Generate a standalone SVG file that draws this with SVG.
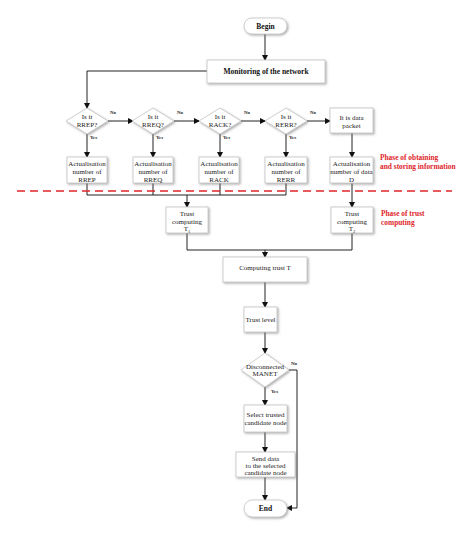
<svg xmlns="http://www.w3.org/2000/svg" width="474" height="533" viewBox="0 0 474 533">
<style>
.box{fill:#fff;stroke:#c4c4c4;stroke-width:0.8;filter:url(#sh)}
.ln{fill:none;stroke:#222;stroke-width:1}
.ar{fill:none;stroke:#222;stroke-width:1;marker-end:url(#ah)}
.t{font-family:"Liberation Serif",serif;font-size:7px;fill:#222;text-anchor:middle}
.tb{font-family:"Liberation Serif",serif;font-size:7.5px;font-weight:bold;fill:#111;text-anchor:middle}
.lb{font-family:"Liberation Serif",serif;font-size:5px;font-weight:bold;fill:#222}
.red{font-family:"Liberation Serif",serif;font-size:7.4px;font-weight:bold;fill:#e0262b}
.dash{stroke:#e0262b;stroke-width:1.3;stroke-dasharray:8,5;fill:none}
</style>
<defs>
<filter id="sh" x="-20%" y="-20%" width="140%" height="150%">
<feDropShadow dx="1.2" dy="1.2" stdDeviation="0.8" flood-color="#777" flood-opacity="0.6"/>
</filter>
<marker id="ah" markerWidth="6" markerHeight="6" refX="5" refY="3" orient="auto" markerUnits="userSpaceOnUse">
<path d="M0,0 L6,3 L0,6 Z" fill="#111"/>
</marker>
</defs>
<rect width="474" height="533" fill="#fff"/>

<g id="connectors">
<path class="ar" d="M265,34 V60"/>
<path class="ar" d="M207,71 H87 V108"/>
<path class="ar" d="M108,121 H133"/>
<path class="ar" d="M174,121 H199"/>
<path class="ar" d="M241,121 H265"/>
<path class="ar" d="M307,121 H330"/>
<path class="ar" d="M87,134 V157"/>
<path class="ar" d="M153,134 V157"/>
<path class="ar" d="M220,134 V157"/>
<path class="ar" d="M286,134 V157"/>
<path class="ar" d="M352,133 V157"/>
<path class="ln" d="M87,183 V195 H286 V183 M153,183 V195 M220,183 V195"/>
<path class="ar" d="M187,195 V207"/>
<path class="ar" d="M352,183 V207"/>
<path class="ln" d="M187,233 V250 H352 V233"/>
<path class="ar" d="M265,250 V257"/>
<path class="ar" d="M265,282 V307"/>
<path class="ar" d="M265,332 V353"/>
<path class="ar" d="M265,387 V405"/>
<path class="ar" d="M265,432 V452"/>
<path class="ar" d="M265,477 V500"/>
<path class="ar" d="M289,370 H297 V508 H287"/>
</g>

<path class="dash" d="M17,191 H452"/>

<g id="begin"><rect class="box" x="244" y="18" width="43" height="16" rx="8"/><text class="tb" x="265.5" y="28.5">Begin</text></g>
<g id="monitoring"><rect class="box" x="207" y="60" width="118" height="23"/><text class="tb" x="266" y="74">Monitoring of the network</text></g>

<g id="d-rrep"><path class="box" d="M87,108 L108,121 L87,134 L66,121 Z"/><text class="t" x="87" y="119">Is it</text><text class="t" x="87" y="127">RREP?</text></g>
<g id="d-rreq"><path class="box" d="M153,108 L174,121 L153,134 L132,121 Z"/><text class="t" x="153" y="119">Is it</text><text class="t" x="153" y="127">RREQ?</text></g>
<g id="d-rack"><path class="box" d="M220,108 L241,121 L220,134 L199,121 Z"/><text class="t" x="220" y="119">Is it</text><text class="t" x="220" y="127">RACK?</text></g>
<g id="d-rerr"><path class="box" d="M286,108 L307,121 L286,134 L265,121 Z"/><text class="t" x="286" y="119">Is it</text><text class="t" x="286" y="127">RERR?</text></g>
<g id="datapacket"><rect class="box" x="330" y="108" width="43" height="25"/><text class="t" x="351.5" y="119.5">It is data</text><text class="t" x="351.5" y="128">packet</text></g>

<g id="labels">
<text class="lb" x="110" y="114">No</text>
<text class="lb" x="177" y="114">No</text>
<text class="lb" x="244" y="114">No</text>
<text class="lb" x="310" y="114">No</text>
<text class="lb" x="90" y="139">Yes</text>
<text class="lb" x="156" y="139">Yes</text>
<text class="lb" x="223" y="139">Yes</text>
<text class="lb" x="289" y="139">Yes</text>
<text class="lb" x="291" y="365">No</text>
<text class="lb" x="271" y="393">Yes</text>
</g>

<g id="a-rrep"><rect class="box" x="67" y="157" width="40" height="26"/><text class="t" x="87" y="165.5">Actualisation</text><text class="t" x="87" y="173.5">number of</text><text class="t" x="87" y="181.5">RREP</text></g>
<g id="a-rreq"><rect class="box" x="133" y="157" width="40" height="26"/><text class="t" x="153" y="165.5">Actualisation</text><text class="t" x="153" y="173.5">number of</text><text class="t" x="153" y="181.5">RREQ</text></g>
<g id="a-rack"><rect class="box" x="199" y="157" width="40" height="26"/><text class="t" x="219" y="165.5">Actualisation</text><text class="t" x="219" y="173.5">number of</text><text class="t" x="219" y="181.5">RACK</text></g>
<g id="a-rerr"><rect class="box" x="265" y="157" width="42" height="26"/><text class="t" x="286" y="165.5">Actualisation</text><text class="t" x="286" y="173.5">number of</text><text class="t" x="286" y="181.5">RERR</text></g>
<g id="a-data"><rect class="box" x="330" y="157" width="43" height="26"/><text class="t" x="351.5" y="165.5">Actualisation</text><text class="t" x="351.5" y="173.5">number of data</text><text class="t" x="351.5" y="181.5">D</text></g>

<g id="phase1"><text class="red" x="380" y="160">Phase of obtaining</text><text class="red" x="380" y="169">and storing information</text></g>

<g id="trust1"><rect class="box" x="166" y="207" width="42" height="26"/><text class="t" x="187" y="215.5">Trust</text><text class="t" x="187" y="223.5">computing</text><text class="t" x="187" y="231">T<tspan font-size="4.5" dy="1.5">1</tspan></text></g>
<g id="trust2"><rect class="box" x="331" y="207" width="42" height="26"/><text class="t" x="352" y="215.5">Trust</text><text class="t" x="352" y="223.5">computing</text><text class="t" x="352" y="231">T<tspan font-size="4.5" dy="1.5">2</tspan></text></g>

<g id="phase2"><text class="red" x="381" y="216">Phase of trust</text><text class="red" x="381" y="225">computing</text></g>

<g id="computing"><rect class="box" x="223" y="257" width="84" height="25"/><text class="t" x="265" y="270">Computing trust T</text></g>
<g id="trustlevel"><rect class="box" x="244" y="307" width="33" height="25"/><text class="t" x="260.5" y="322">Trust level</text></g>
<g id="disconnected"><path class="box" d="M265,353 L289,370 L265,387 L241,370 Z"/><text class="t" x="265" y="368.5">Disconnected</text><text class="t" x="265" y="376">MANET</text></g>
<g id="select"><rect class="box" x="244" y="405" width="43" height="27"/><text class="t" x="265.5" y="416.5">Select trusted</text><text class="t" x="265.5" y="424.5">candidate node</text></g>
<g id="send"><rect class="box" x="236" y="452" width="59" height="25"/><text class="t" x="265.5" y="460.5">Send data</text><text class="t" x="265.5" y="467.5">to the selected</text><text class="t" x="265.5" y="474.5">candidate node</text></g>
<g id="end"><rect class="box" x="244" y="500" width="43" height="17" rx="8.5"/><text class="tb" x="265.5" y="511">End</text></g>
</svg>
